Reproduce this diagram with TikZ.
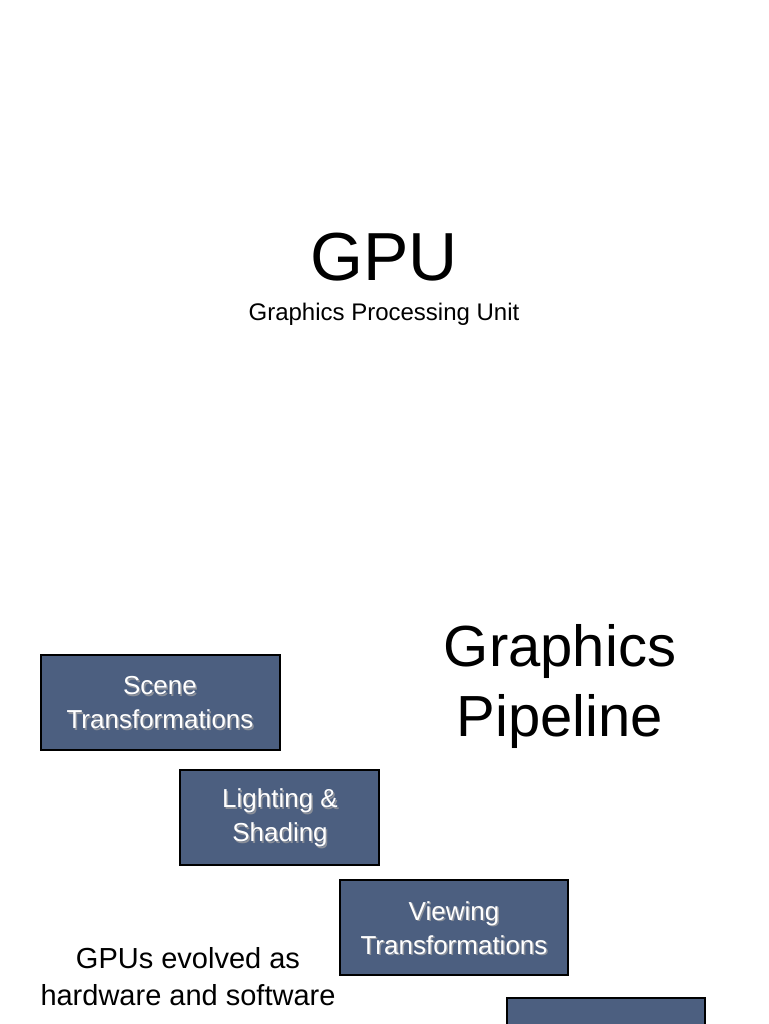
\documentclass[tikz,border=0pt]{standalone}
\usepackage{fontspec}
\setmainfont{Liberation Sans}
\usetikzlibrary{calc}
\definecolor{boxblue}{HTML}{4C5F80}
\definecolor{shad}{HTML}{8A8F99}
\begin{document}
\begin{tikzpicture}[x=1pt,y=-1pt,
  stage/.style={draw=black,line width=1.2pt,fill=boxblue,inner sep=0pt}]
\useasboundingbox (0,0) rectangle (768,1024);
\clip (0,0) rectangle (768,1024);
\newcommand{\stxt}[3]{%
  \node[text=shad,align=center,font=\fontsize{26}{34}\selectfont] at ($(#1)+(1.5,1.5)$) {#2};
  \node[text=white,align=center,font=\fontsize{26}{34}\selectfont] (#3) at (#1) {#2};}
\node[font=\fontsize{68}{70}\selectfont] (gpu) at (384,257) {GPU};
\node[font=\fontsize{24}{28}\selectfont] (sub) at (384,314) {Graphics Processing Unit};
\node[align=center,font=\fontsize{58}{70}\selectfont] (gp) at (560,686) {Graphics\\Pipeline};
\draw[stage] (41,655) rectangle (280,750);
\draw[stage] (180,770) rectangle (379,865);
\draw[stage] (340,880) rectangle (568,975);
\draw[stage] (507,998) rectangle (705,1040);
\path coordinate (c1) at (160,703) coordinate (c2) at (280,818) coordinate (c3) at (454,928);
\stxt{c1}{Scene\\Transformations}{t1}
\stxt{c2}{Lighting \&\\Shading}{t2}
\stxt{c3}{Viewing\\Transformations}{t3}
\node[align=center,font=\fontsize{29}{37}\selectfont,anchor=north] (ev) at (188,944) {GPUs evolved as\\hardware and software};
\end{tikzpicture}
\end{document}
